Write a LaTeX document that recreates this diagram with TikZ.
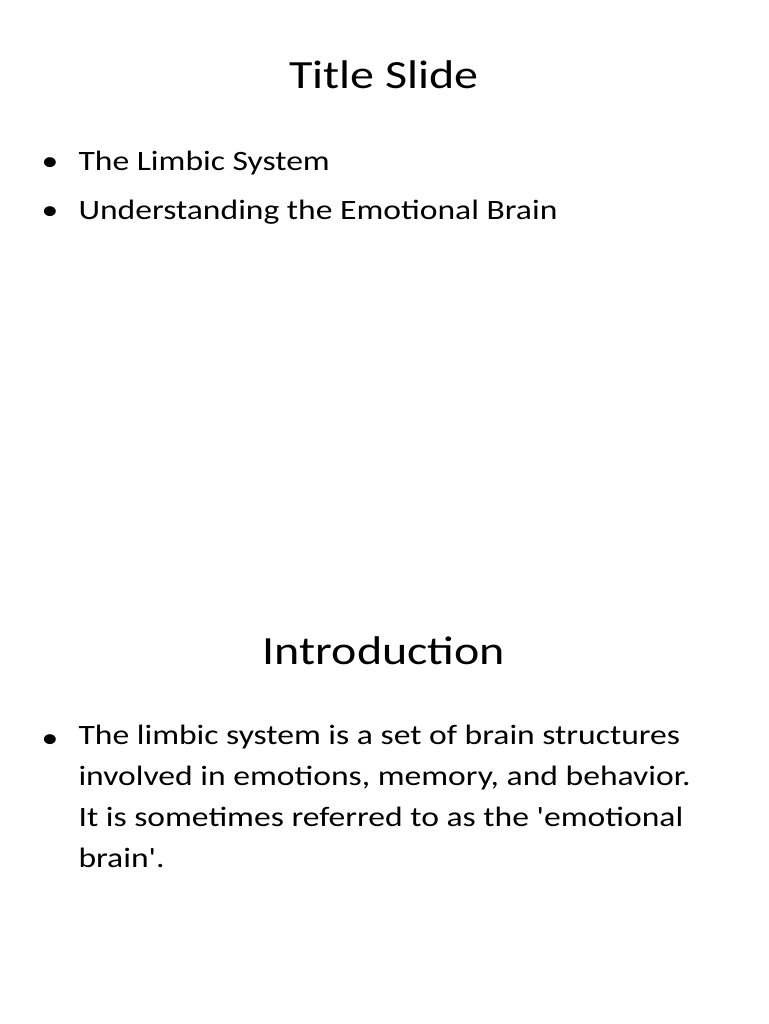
\documentclass[tikz,border=0pt]{standalone}
\usepackage{fontspec}
\setmainfont{Carlito}[FakeStretch=1.2,Ligatures=TeXOff]
\begin{document}
\begin{tikzpicture}[x=1pt,y=-1pt,
  ttl/.style={anchor=center,font=\fontsize{40}{48}\selectfont},
  bul/.style={anchor=base west,font=\fontsize{28}{41}\selectfont},
  dot/.style={anchor=base,font=\fontsize{28}{41}\selectfont}]
\useasboundingbox[fill=white] (0,0) rectangle (768,1024);
\node[ttl] (t1) at (384,75) {Title Slide};
\node[dot] (b1) at (50,171) {•};
\node[bul] (l1) at (75,171) {The Limbic System};
\node[dot] (b2) at (50,219) {•};
\node[bul] (l2) at (75,219) {Understanding the Emotional Brain};
\node[ttl] (t2) at (384,651) {Introduction};
\node[dot] (b3) at (50,747) {•};
\node[bul,align=left,anchor=north west] (p) at (75,722) {The limbic system is a set of brain structures\\involved in emotions, memory, and behavior.\\It is sometimes referred to as the 'emotional\\brain'.};
\end{tikzpicture}
\end{document}
